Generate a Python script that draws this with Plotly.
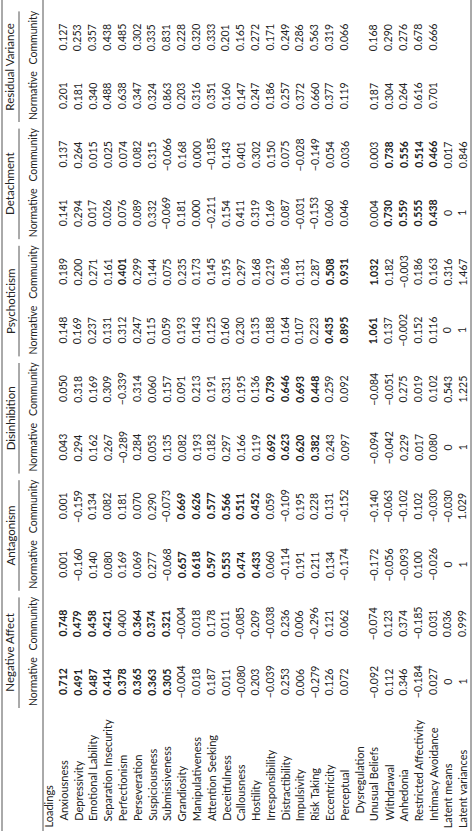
import plotly.graph_objects as go

# Dados da tabela (linhas = facetas, colunas = fator x amostra)
rows = ["Anxiousness", "Depressivity", "Emotional Lability", "Separation Insecurity",
        "Perfectionism", "Perseveration", "Suspiciousness", "Submissiveness",
        "Grandiosity", "Manipulativeness", "Attention Seeking", "Deceitfulness",
        "Callousness", "Hostility", "Irresponsibility", "Distractibility",
        "Impulsivity", "Risk Taking", "Eccentricity", "Perceptual",
        "Unusual Beliefs", "Withdrawal", "Anhedonia", "Restricted Affectivity",
        "Intimacy Avoidance", "Latent means", "Latent variances"]
factors = ["Negative Affect", "Antagonism", "Disinhibition", "Psychoticism",
           "Detachment", "Residual Variance"]
samples = ["Normative", "Community"]

na_norm = [0.712, 0.491, 0.487, 0.414, 0.378, 0.365, 0.363, 0.305, -0.004, 0.018, 0.187, 0.011,
           -0.080, 0.203, -0.039, 0.253, 0.006, -0.279, 0.126, 0.072, -0.092, 0.112, 0.346,
           -0.184, 0.027, 0, 1]
na_comm = [0.748, 0.479, 0.458, 0.421, 0.400, 0.364, 0.374, 0.321, -0.004, 0.018, 0.178, 0.011,
           -0.085, 0.209, -0.038, 0.236, 0.006, -0.296, 0.121, 0.062, -0.074, 0.123, 0.374,
           -0.185, 0.031, 0.036, 0.999]
ant_norm = [0.001, -0.160, 0.140, 0.080, 0.169, 0.069, 0.277, -0.068, 0.657, 0.618, 0.597, 0.553,
            0.474, 0.433, 0.060, -0.114, 0.191, 0.211, 0.134, -0.174, -0.172, -0.056, -0.093,
            0.100, -0.026, 0, 1]
ant_comm = [0.001, -0.159, 0.134, 0.082, 0.181, 0.070, 0.290, -0.073, 0.669, 0.626, 0.577, 0.566,
            0.511, 0.452, 0.059, -0.109, 0.195, 0.228, 0.131, -0.152, -0.140, -0.063, -0.102,
            0.102, -0.030, -0.030, 1.029]
dis_norm = [0.043, 0.294, 0.162, 0.267, -0.289, 0.284, 0.053, 0.135, 0.082, 0.193, 0.182, 0.297,
            0.166, 0.119, 0.692, 0.623, 0.620, 0.382, 0.243, 0.097, -0.094, -0.042, 0.229,
            0.017, 0.080, 0, 1]
dis_comm = [0.050, 0.318, 0.169, 0.309, -0.339, 0.314, 0.060, 0.157, 0.091, 0.213, 0.191, 0.331,
            0.195, 0.136, 0.739, 0.646, 0.693, 0.448, 0.259, 0.092, -0.084, -0.051, 0.275,
            0.019, 0.102, 0.543, 1.225]
psy_norm = [0.148, 0.169, 0.237, 0.131, 0.312, 0.247, 0.115, 0.059, 0.193, 0.143, 0.125, 0.160,
            0.230, 0.135, 0.188, 0.164, 0.107, 0.223, 0.435, 0.895, 1.061, 0.137, -0.002,
            0.152, 0.116, 0, 1]
psy_comm = [0.189, 0.200, 0.271, 0.161, 0.401, 0.299, 0.144, 0.075, 0.235, 0.173, 0.145, 0.195,
            0.297, 0.168, 0.219, 0.186, 0.131, 0.287, 0.508, 0.931, 1.032, 0.182, -0.003,
            0.186, 0.163, 0.316, 1.467]
det_norm = [0.141, 0.294, 0.017, 0.026, 0.076, 0.089, 0.332, -0.069, 0.181, 0.000, -0.211, 0.154,
            0.411, 0.319, 0.169, 0.087, -0.031, -0.153, 0.060, 0.046, 0.004, 0.730, 0.559,
            0.555, 0.438, 0, 1]
det_comm = [0.137, 0.264, 0.015, 0.025, 0.074, 0.082, 0.315, -0.066, 0.168, 0.000, -0.185, 0.143,
            0.401, 0.302, 0.150, 0.075, -0.028, -0.149, 0.054, 0.036, 0.003, 0.738, 0.556,
            0.514, 0.466, 0.017, 0.846]
res_norm = [0.201, 0.181, 0.340, 0.488, 0.638, 0.347, 0.324, 0.863, 0.203, 0.316, 0.351, 0.160,
            0.147, 0.247, 0.186, 0.257, 0.372, 0.660, 0.377, 0.119, 0.187, 0.304, 0.264,
            0.616, 0.701, None, None]
res_comm = [0.127, 0.253, 0.357, 0.438, 0.485, 0.302, 0.335, 0.831, 0.228, 0.320, 0.333, 0.201,
            0.165, 0.272, 0.171, 0.249, 0.286, 0.563, 0.319, 0.066, 0.168, 0.290, 0.276,
            0.678, 0.666, None, None]

columns = [na_norm, na_comm, ant_norm, ant_comm, dis_norm, dis_comm,
           psy_norm, psy_comm, det_norm, det_comm, res_norm, res_comm]

# celulas em negrito: (indice da coluna, linhas)
bold_cells = {0: range(0, 8), 1: [0, 1, 2, 3, 5, 6, 7],
              2: range(8, 14), 3: range(8, 14),
              4: range(14, 18), 5: range(14, 18),
              6: [18, 19, 20], 7: [4, 18, 19, 20],
              8: range(21, 25), 9: range(21, 25)}

W, H = 474, 831
FONT = "Lato, 'Open Sans', sans-serif"


def row_x(i):
    # Perceptual ocupa duas linhas
    return 63 + 14.8 * (i + (1 if i >= 20 else 0))


def col_y(j):
    return 682 - 58.6 * j


def fmt(v, i):
    if v is None:
        return ""
    if i >= 25 and float(v).is_integer():
        return str(int(v))
    return f"{v:.3f}".replace("-", "\u2212")


fig = go.Figure()
ann = []


def txt(x, y, s, xa="center", ya="middle", size=10.5):
    ann.append(dict(x=x, y=y, xref="x", yref="y", text=s, showarrow=False,
                    textangle=-90, xanchor=xa, yanchor=ya, borderpad=0,
                    font=dict(family=FONT, size=size, color="#222")))


# cabeçalhos
for k, f in enumerate(factors):
    ymid = (col_y(2 * k) + col_y(2 * k + 1)) / 2
    txt(10, ymid, f, size=11.5)
    fig.add_shape(type="line", x0=19, x1=19, y0=col_y(2 * k) + 26, y1=col_y(2 * k + 1) - 26,
                  line=dict(color="#555", width=1))
    for s_i, s in enumerate(samples):
        txt(33, col_y(2 * k + s_i), s, size=10.5)

# linhas horizontais (no original) da tabela
for xl in [2, 43, 471]:
    fig.add_shape(type="line", x0=xl, x1=xl, y0=0, y1=H, line=dict(color="#555", width=1))

# rotulos das linhas
txt(48, 829, "Loadings", ya="bottom", size=11)
for i, r in enumerate(rows):
    if i >= 25:
        txt(row_x(i), 829, r, ya="bottom", size=11)
    else:
        txt(row_x(i), 822, r, ya="bottom", size=11)
txt(row_x(19) + 14.8, 815, "Dysregulation", ya="bottom", size=11)

# valores
for j, col in enumerate(columns):
    bold = set(bold_cells.get(j, []))
    for i, v in enumerate(col):
        s = fmt(v, i)
        if not s:
            continue
        if i in bold:
            s = f"<b>{s}</b>"
        txt(row_x(i), col_y(j), s)

fig.update_layout(
    width=W, height=H,
    margin=dict(l=0, r=0, t=0, b=0),
    paper_bgcolor="white", plot_bgcolor="white",
    annotations=ann, showlegend=False,
)
fig.update_xaxes(range=[0, W], visible=False, fixedrange=True)
fig.update_yaxes(range=[H, 0], visible=False, fixedrange=True)

fig.write_html("out.html", config={"displayModeBar": False},
               post_script="document.body.style.margin='0';document.body.style.overflow='hidden';")
